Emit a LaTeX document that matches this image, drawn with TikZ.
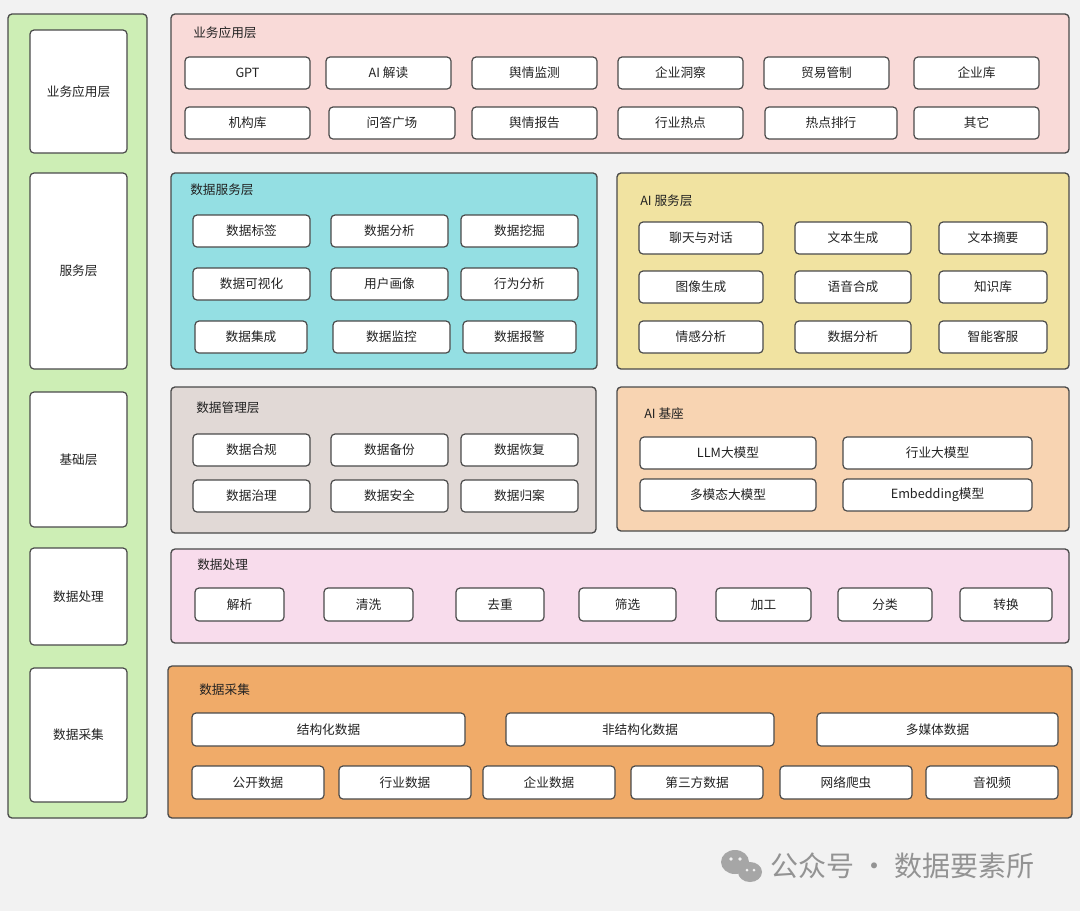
\documentclass[tikz,border=0pt]{standalone}
\usepackage{fontspec}
\setmainfont{Noto Sans CJK SC}
\usetikzlibrary{fit}
\definecolor{bgc}{HTML}{F2F2F2}
\definecolor{edge}{HTML}{4A4A4A}
\definecolor{cgreen}{HTML}{CDEEB5}
\definecolor{cbiz}{HTML}{F9DAD8}
\definecolor{cds}{HTML}{94DFE3}
\definecolor{cais}{HTML}{F1E3A1}
\definecolor{cdm}{HTML}{E1D9D6}
\definecolor{cbase}{HTML}{F8D4B2}
\definecolor{cproc}{HTML}{F8DCEC}
\definecolor{ccol}{HTML}{F0AB69}
\definecolor{txt}{HTML}{222222}
\tikzset{
 panel/.style={draw=edge,line width=1pt,rounded corners=3pt,inner sep=0pt},
 bx/.style={draw=edge,fill=white,line width=0.9pt,rounded corners=3pt,inner sep=0pt},
 ttl/.style={font=\fontsize{9.5}{11}\selectfont,text=txt,anchor=west,inner sep=0pt},
 lb/.style={font=\fontsize{9.5}{11}\selectfont,text=txt},
}
\newcommand{\bxx}[6]{\node[bx,fit={(#2,#3)(#4,#5)},label={[lb]center:#6}] (#1) {};}
\begin{document}
\begin{tikzpicture}[x=0.75pt,y=-0.75pt]
\fill[bgc] (0,0) rectangle (1080,911);
\useasboundingbox (0,0) rectangle (1080,911);
% left column
\node[panel,fill=cgreen,fit={(8,14)(147,818)}] (left) {};
\bxx{l1}{30}{30}{127}{153}{业务应用层}
\bxx{l2}{30}{173}{127}{369}{服务层}
\bxx{l3}{30}{392}{127}{527}{基础层}
\bxx{l4}{30}{548}{127}{645}{数据处理}
\bxx{l5}{30}{668}{127}{802}{数据采集}
% business
\node[panel,fill=cbiz,fit={(171,14)(1069,153)}] (biz) {};
\node[ttl] (bizt) at (193,33) {业务应用层};
\bxx{b1}{185}{57}{310}{89}{GPT}
\bxx{b2}{326}{57}{451}{89}{AI 解读}
\bxx{b3}{472}{57}{597}{89}{舆情监测}
\bxx{b4}{618}{57}{743}{89}{企业洞察}
\bxx{b5}{764}{57}{889}{89}{贸易管制}
\bxx{b6}{914}{57}{1039}{89}{企业库}
\bxx{b7}{185}{107}{310}{139}{机构库}
\bxx{b8}{329}{107}{455}{139}{问答广场}
\bxx{b9}{472}{107}{597}{139}{舆情报告}
\bxx{b10}{618}{107}{743}{139}{行业热点}
\bxx{b11}{765}{107}{897}{139}{热点排行}
\bxx{b12}{914}{107}{1039}{139}{其它}
% data service
\node[panel,fill=cds,fit={(171,173)(597,369)}] (ds) {};
\node[ttl] (dst) at (190,190) {数据服务层};
\bxx{d1}{193}{215}{310}{247}{数据标签}
\bxx{d2}{331}{215}{448}{247}{数据分析}
\bxx{d3}{461}{215}{578}{247}{数据挖掘}
\bxx{d4}{193}{268}{310}{300}{数据可视化}
\bxx{d5}{331}{268}{448}{300}{用户画像}
\bxx{d6}{461}{268}{578}{300}{行为分析}
\bxx{d7}{195}{321}{307}{353}{数据集成}
\bxx{d8}{333}{321}{450}{353}{数据监控}
\bxx{d9}{463}{321}{576}{353}{数据报警}
% AI service
\node[panel,fill=cais,fit={(617,173)(1069,369)}] (ais) {};
\node[ttl] (aist) at (640,201) {AI 服务层};
\bxx{a1}{639}{222}{763}{254}{聊天与对话}
\bxx{a2}{795}{222}{911}{254}{文本生成}
\bxx{a3}{939}{222}{1047}{254}{文本摘要}
\bxx{a4}{639}{271}{763}{303}{图像生成}
\bxx{a5}{795}{271}{911}{303}{语音合成}
\bxx{a6}{939}{271}{1047}{303}{知识库}
\bxx{a7}{639}{321}{763}{353}{情感分析}
\bxx{a8}{795}{321}{911}{353}{数据分析}
\bxx{a9}{939}{321}{1047}{353}{智能客服}
% data mgmt
\node[panel,fill=cdm,fit={(171,387)(596,533)}] (dm) {};
\node[ttl] (dmt) at (196,408) {数据管理层};
\bxx{m1}{193}{434}{310}{466}{数据合规}
\bxx{m2}{331}{434}{448}{466}{数据备份}
\bxx{m3}{461}{434}{578}{466}{数据恢复}
\bxx{m4}{193}{480}{310}{512}{数据治理}
\bxx{m5}{331}{480}{448}{512}{数据安全}
\bxx{m6}{461}{480}{578}{512}{数据归案}
% AI base
\node[panel,fill=cbase,fit={(617,387)(1069,531)}] (base) {};
\node[ttl] (baset) at (644,414) {AI 基座};
\bxx{f1}{640}{437}{816}{469}{LLM大模型}
\bxx{f2}{843}{437}{1032}{469}{行业大模型}
\bxx{f3}{640}{479}{816}{511}{多模态大模型}
\bxx{f4}{843}{479}{1032}{511}{Embedding模型}
% processing
\node[panel,fill=cproc,fit={(171,549)(1069,643)}] (proc) {};
\node[ttl] (proct) at (197,565) {数据处理};
\bxx{p1}{195}{588}{284}{621}{解析}
\bxx{p2}{324}{588}{413}{621}{清洗}
\bxx{p3}{456}{588}{544}{621}{去重}
\bxx{p4}{579}{588}{676}{621}{筛选}
\bxx{p5}{716}{588}{811}{621}{加工}
\bxx{p6}{838}{588}{932}{621}{分类}
\bxx{p7}{960}{588}{1052}{621}{转换}
% collection
\node[panel,fill=ccol,fit={(168,666)(1072,818)}] (col) {};
\node[ttl] (colt) at (199,690) {数据采集};
\bxx{c1}{192}{713}{465}{746}{结构化数据}
\bxx{c2}{506}{713}{774}{746}{非结构化数据}
\bxx{c3}{817}{713}{1058}{746}{多媒体数据}
\bxx{c4}{192}{766}{324}{799}{公开数据}
\bxx{c5}{339}{766}{471}{799}{行业数据}
\bxx{c6}{483}{766}{615}{799}{企业数据}
\bxx{c7}{631}{766}{763}{799}{第三方数据}
\bxx{c8}{780}{766}{912}{799}{网络爬虫}
\bxx{c9}{926}{766}{1058}{799}{音视频}
% watermark
\fill[gray!70] (735,862) ellipse [x radius=14, y radius=12];
\fill[gray!70] (750,872) ellipse [x radius=12, y radius=10];
\fill[bgc] (731,859) circle (1.8) (740,859) circle (1.8) (747,870) circle (1.5) (754,870) circle (1.5);
\node[font=\fontsize{21}{24}\selectfont,text=gray!85,anchor=west,inner sep=0] (wm) at (770,866) {公众号 · 数据要素所};
\end{tikzpicture}
\end{document}
